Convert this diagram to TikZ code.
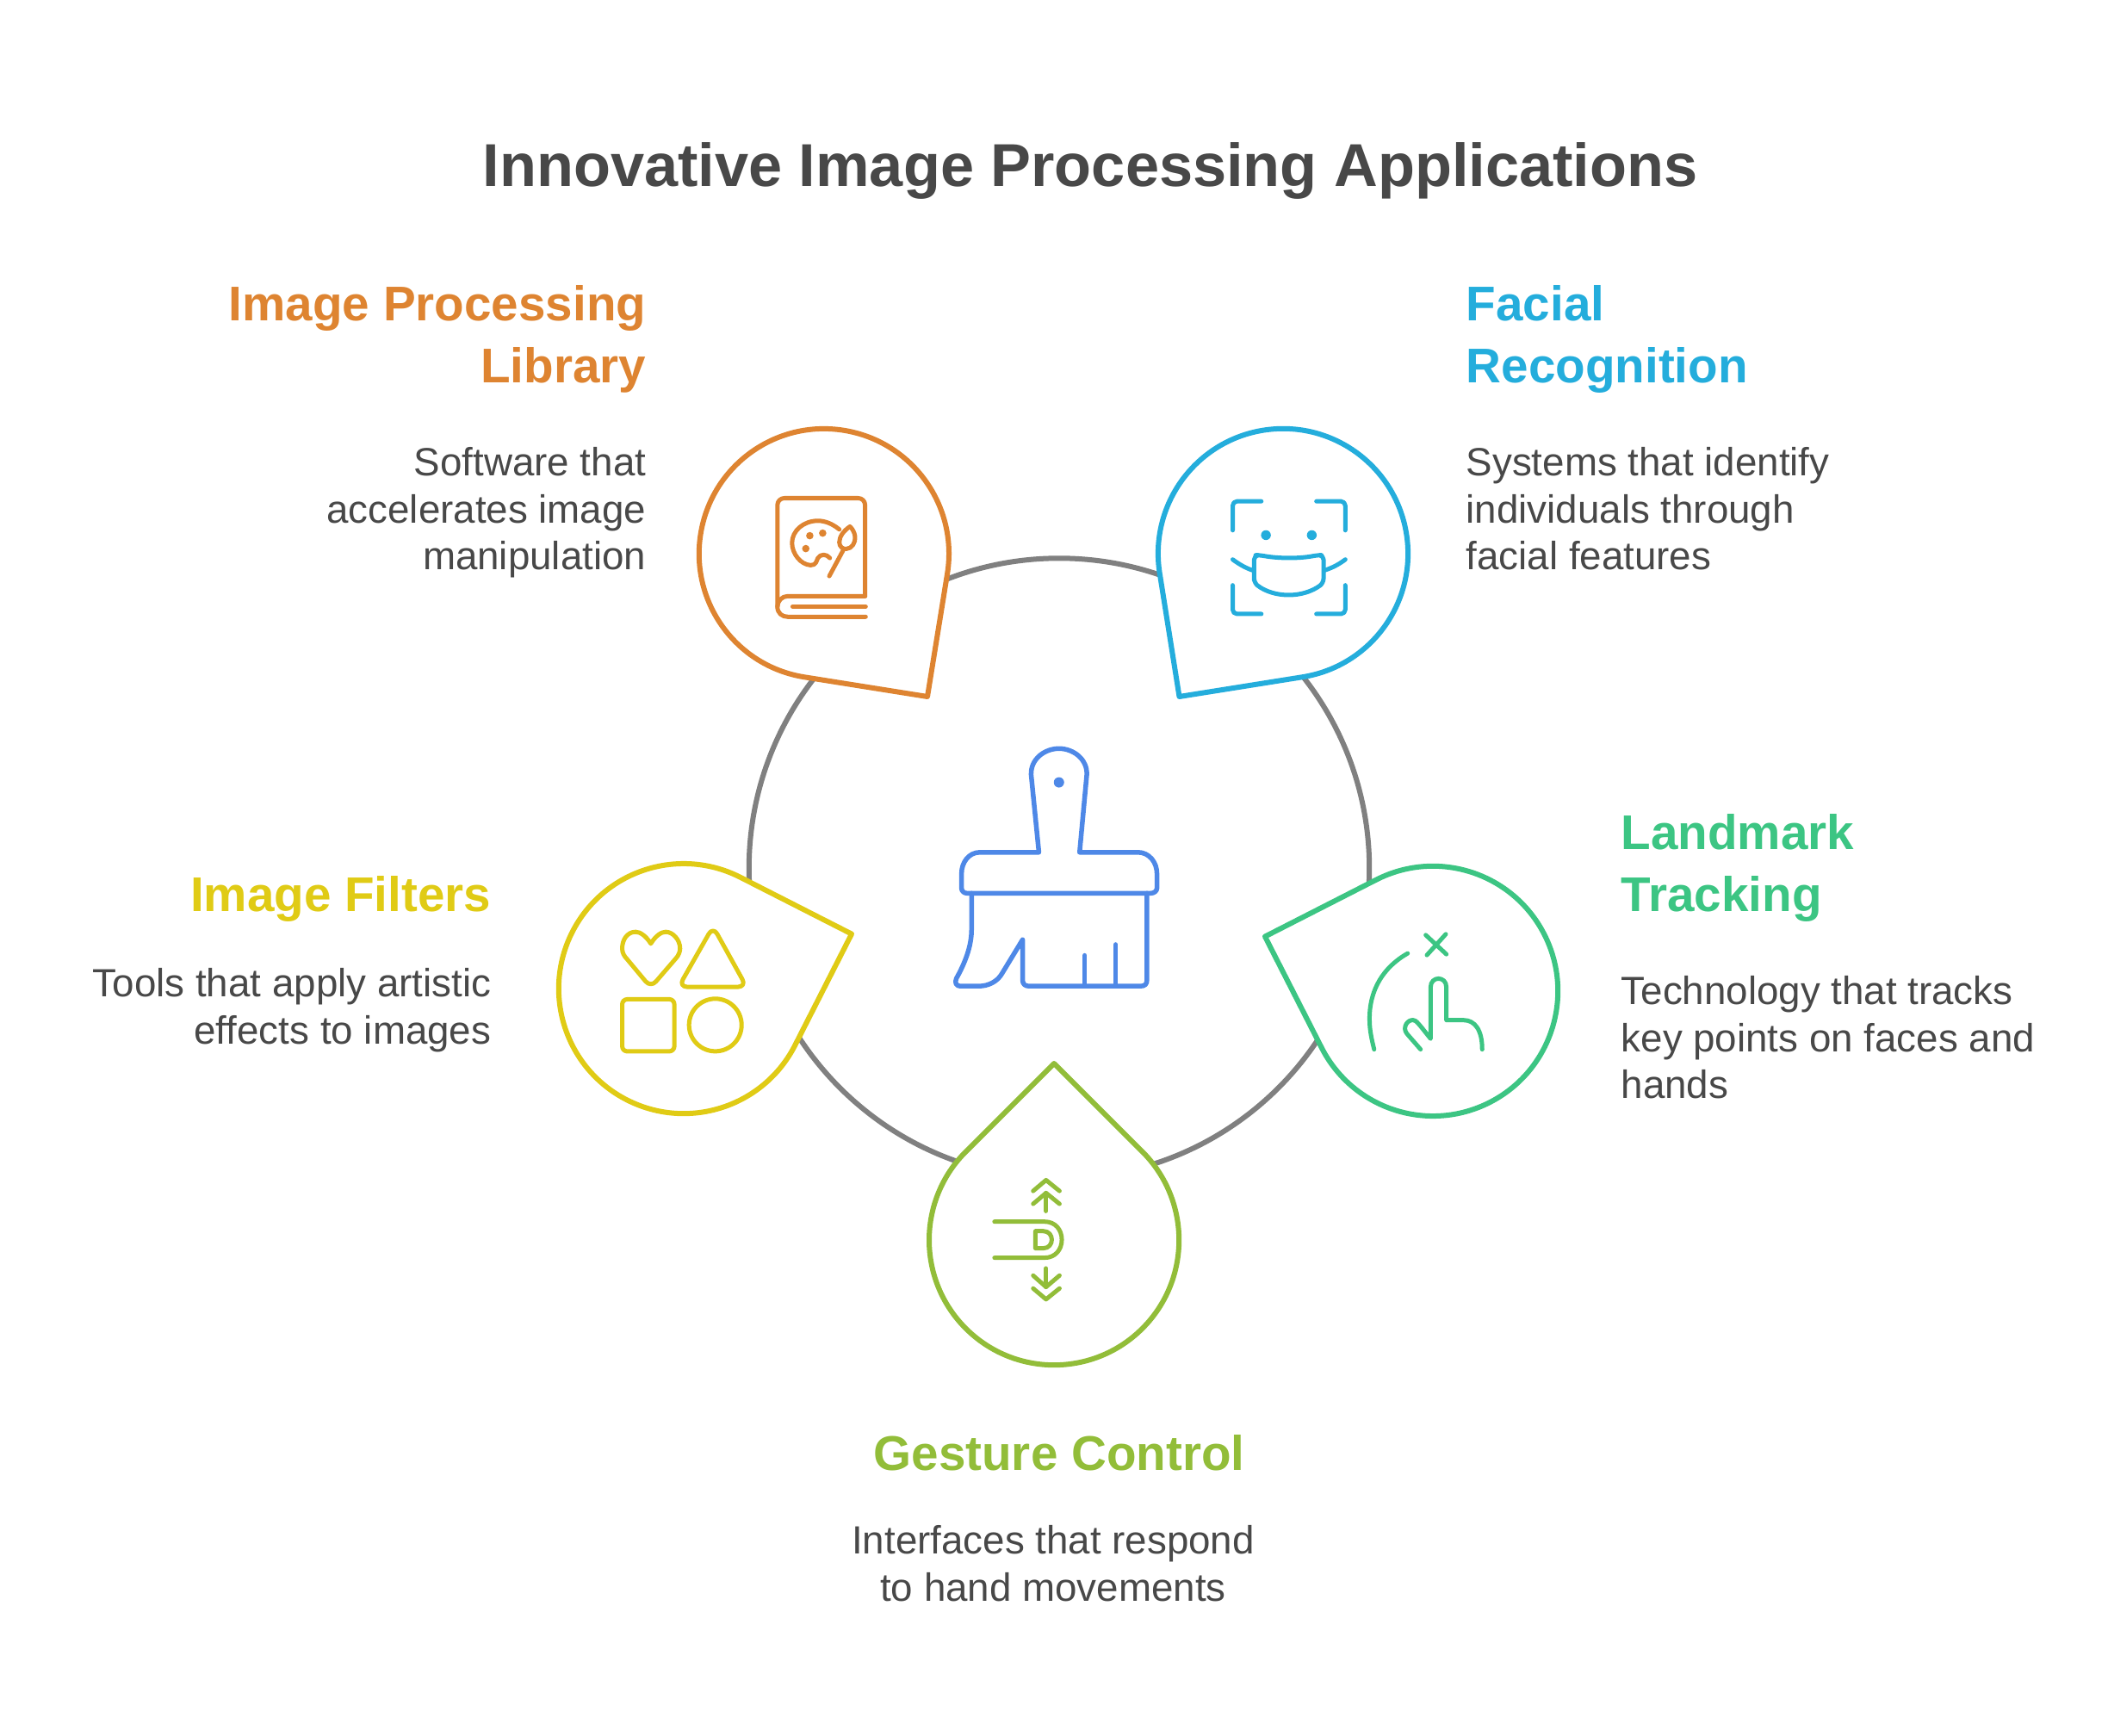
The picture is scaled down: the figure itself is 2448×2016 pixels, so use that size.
\documentclass[tikz,border=0pt]{standalone}
\usepackage{fontspec}
\setmainfont{Liberation Sans}
\definecolor{libcol}{HTML}{DE8431}
\definecolor{facecol}{HTML}{24ADDC}
\definecolor{markcol}{HTML}{3CC583}
\definecolor{gestcol}{HTML}{92BD39}
\definecolor{filtcol}{HTML}{E0CB15}
\definecolor{brushcol}{HTML}{4E88E7}
\definecolor{textcol}{HTML}{484848}
\tikzset{
  ring/.style={draw=gray!100!black,line width=0.06cm},
  pin/.style={draw=#1,fill=white,line width=0.06cm,line join=round},
  icon/.style={draw=#1,line width=0.05cm,line cap=round,line join=round},
  dot/.style={fill=#1,draw=none},
  zoomed/.style 2 args={shift={(#1,#2)},x=0.003333cm,y=-0.003333cm},
  titletext/.style={inner sep=0,text=textcol,font=\fontsize{20}{24}\selectfont\bfseries},
  headtext/.style={inner sep=0,font=\fontsize{16.1}{20.5}\selectfont\bfseries},
  bodytext/.style={inner sep=0,text=textcol,font=\fontsize{13}{15.5}\selectfont},
}
\begin{document}
\begin{tikzpicture} [x=0.01cm,y=-0.01cm]
  \useasboundingbox (0,0) rectangle (2448,2016);
  % ring
  \draw [ring] (1230,1008.5) circle [radius=3.6cm];
  % pins
  \draw [pin=libcol] (1077,809) -- (1100.2,665.7) arc [start angle=-9,end angle=261,radius=1.45cm] -- cycle;
  \draw [pin=facecol] (1369.5,809) -- (1512.7,786.2) arc [start angle=-81,end angle=189,radius=1.45cm] -- cycle;
  \draw [pin=markcol] (1469,1087.6) -- (1534.8,1216.8) arc [start angle=207,end angle=477,radius=1.45cm] -- cycle;
  \draw [pin=gestcol] (1224,1235) -- (1121.5,1337.5) arc [start angle=135,end angle=405,radius=1.45cm] -- cycle;
  \draw [pin=filtcol] (989,1084.6) -- (859.8,1018.8) arc [start angle=63,end angle=333,radius=1.45cm] -- cycle;

  % brush
  \begin{scope}[zoomed={1080}{850}]
    \draw [icon=brushcol,line width=0.055cm] (380,420) -- (353,150) .. controls (350,95) and (400,58) .. (450,58) .. controls (500,58) and (550,95) .. (547,150) -- (522,420) -- (725,420) .. controls (765,420) and (792,455) .. (792,495) -- (792,545) .. controls (792,555) and (782,563) .. (770,563) -- (130,563) .. controls (118,563) and (110,555) .. (110,545) -- (110,495) .. controls (110,455) and (135,420) .. (175,420) -- cycle;
    \draw [icon=brushcol,line width=0.055cm] (145,563) -- (145,690) .. controls (145,750) and (120,810) .. (92,860) .. controls (85,875) and (92,887) .. (105,887) -- (170,887) .. controls (205,887) and (235,870) .. (250,845) -- (323,725) -- (323,865) .. controls (323,880) and (332,887) .. (345,887) -- (735,887) .. controls (750,887) and (757,880) .. (757,865) -- (757,563);
    \draw [icon=brushcol,line width=0.055cm] (540,780) -- (540,887);
    \draw [icon=brushcol,line width=0.055cm] (648,742) -- (648,887);
    \fill [dot=brushcol] (450,176) circle [radius=0.06cm];
  \end{scope}

  % book
  \begin{scope}[zoomed={780}{480}]
    \draw [icon=libcol,rounded corners=0.08cm] (675,638) -- (675,296) -- (369,296) -- (369,675);
    \draw [icon=libcol] (675,638) -- (405,638) .. controls (385,638) and (369,655) .. (369,675) .. controls (369,697) and (385,710) .. (405,710) -- (677,710);
    \draw [icon=libcol] (422,674) -- (677,674);
    \draw [icon=libcol] (585,405) .. controls (560,385) and (535,375) .. (510,375) .. controls (460,375) and (420,410) .. (420,452) .. controls (420,490) and (450,528) .. (485,530) .. controls (505,530) and (505,515) .. (510,505) .. controls (520,490) and (540,490) .. (552,505);
    \fill [dot=libcol] (482,427) circle [radius=0.043cm];
    \fill [dot=libcol] (527,418) circle [radius=0.043cm];
    \fill [dot=libcol] (468,472) circle [radius=0.043cm];
    \draw [icon=libcol] (622,395) .. controls (600,410) and (585,430) .. (585,450) .. controls (585,465) and (597,475) .. (610,473) .. controls (630,472) and (642,450) .. (640,430) .. controls (638,415) and (630,402) .. (622,395) -- cycle;
    \draw [icon=libcol] (600,475) -- (550,568);
  \end{scope}

  % face
  \begin{scope}[zoomed={1330}{480}]
    \draw [icon=facecol,rounded corners=0.05cm] (305,408) -- (305,307) -- (405,307);
    \draw [icon=facecol,rounded corners=0.05cm] (597,307) -- (698,307) -- (698,408);
    \draw [icon=facecol,rounded corners=0.05cm] (305,600) -- (305,700) -- (405,700);
    \draw [icon=facecol,rounded corners=0.05cm] (597,700) -- (698,700) -- (698,600);
    \fill [dot=facecol] (421,425) circle [radius=0.057cm];
    \fill [dot=facecol] (581,425) circle [radius=0.057cm];
    \draw [icon=facecol,rounded corners=0.05cm] (380,592) -- (380,495) -- (400,495) .. controls (465,507) and (540,507) .. (600,495) -- (622,495) -- (622,592) .. controls (550,645) and (450,645) .. (380,592) -- cycle;
    \draw [icon=facecol] (305,510) .. controls (325,525) and (350,540) .. (375,548);
    \draw [icon=facecol] (698,510) .. controls (675,528) and (650,540) .. (625,548);
  \end{scope}

  % landmark
  \begin{scope}[zoomed={1460}{990}]
    \draw [icon=markcol] (588,288) -- (660,355);
    \draw [icon=markcol] (658,285) -- (592,358);
    \draw [icon=markcol] (525,352) .. controls (440,400) and (390,480) .. (392,585) .. controls (392,620) and (400,655) .. (408,687);
    \draw [icon=markcol] (570,687) -- (522,632) .. controls (505,610) and (525,582) .. (545,585) .. controls (555,585) and (565,600) .. (605,650) -- (605,470) .. controls (605,430) and (660,430) .. (660,470) -- (660,585) -- (720,585) .. controls (760,585) and (785,620) .. (785,687);
  \end{scope}

  % gesture
  \begin{scope}[zoomed={1060}{1220}]
    \draw [icon=gestcol] (420,490) -- (465,452) -- (512,490);
    \draw [icon=gestcol] (420,535) -- (465,497) -- (512,535);
    \draw [icon=gestcol] (465,497) -- (465,560);
    \draw [icon=gestcol] (420,785) -- (465,825) -- (512,785);
    \draw [icon=gestcol] (420,830) -- (465,868) -- (512,830);
    \draw [icon=gestcol] (465,760) -- (465,825);
    \draw [icon=gestcol] (285,597) -- (460,597) .. controls (497,597) and (520,625) .. (520,660) .. controls (520,695) and (497,723) .. (460,723) -- (285,723);
    \draw [icon=gestcol] (428,630) -- (428,690) -- (455,690) .. controls (495,690) and (495,630) .. (455,630) -- cycle;
  \end{scope}

  % filters
  \begin{scope}[zoomed={640}{990}]
    \draw [icon=filtcol] (348,318) .. controls (330,290) and (310,277) .. (295,277) .. controls (265,277) and (248,305) .. (248,335) .. controls (248,350) and (255,362) .. (265,372) -- (330,450) .. controls (340,462) and (356,462) .. (366,450) -- (435,370) .. controls (445,360) and (450,345) .. (450,335) .. controls (450,305) and (425,277) .. (400,277) .. controls (385,277) and (365,290) .. (348,318) -- cycle;
    \draw [icon=filtcol,rounded corners=0.1cm] (565,258) -- (682,469) -- (445,469) -- cycle;
    \draw [icon=filtcol,rounded corners=0.06cm] (248,512) rectangle (430,694);
    \draw [icon=filtcol] (573,602) circle [radius=0.305cm];
  \end{scope}

  % title and labels
  \node (title) at (1266,198) [titletext] {Innovative Image Processing Applications};

  \node (libhead) at (751,331) [headtext,text=libcol,anchor=north east,align=right] {Image Processing\\Library};
  \node (libtext) at (751,519) [bodytext,anchor=north east,align=right] {Software that\\accelerates image\\manipulation};

  \node (facehead) at (1702,331) [headtext,text=facecol,anchor=north west,align=left] {Facial\\Recognition};
  \node (facetext) at (1702,519) [bodytext,anchor=north west,align=left] {Systems that identify\\individuals through\\facial features};

  \node (markhead) at (1882,945) [headtext,text=markcol,anchor=north west,align=left] {Landmark\\Tracking};
  \node (marktext) at (1882,1133) [bodytext,anchor=north west,align=left] {Technology that tracks\\key points on faces and\\hands};

  \node (filthead) at (571,1017) [headtext,text=filtcol,anchor=north east,align=right] {Image Filters};
  \node (filttext) at (571,1124) [bodytext,anchor=north east,align=right] {Tools that apply artistic\\effects to images};

  \node (gesthead) at (1230,1666) [headtext,text=gestcol,anchor=north] {Gesture Control};
  \node (gesttext) at (1223,1771) [bodytext,anchor=north,align=center] {Interfaces that respond\\to hand movements};
\end{tikzpicture}
\end{document}
